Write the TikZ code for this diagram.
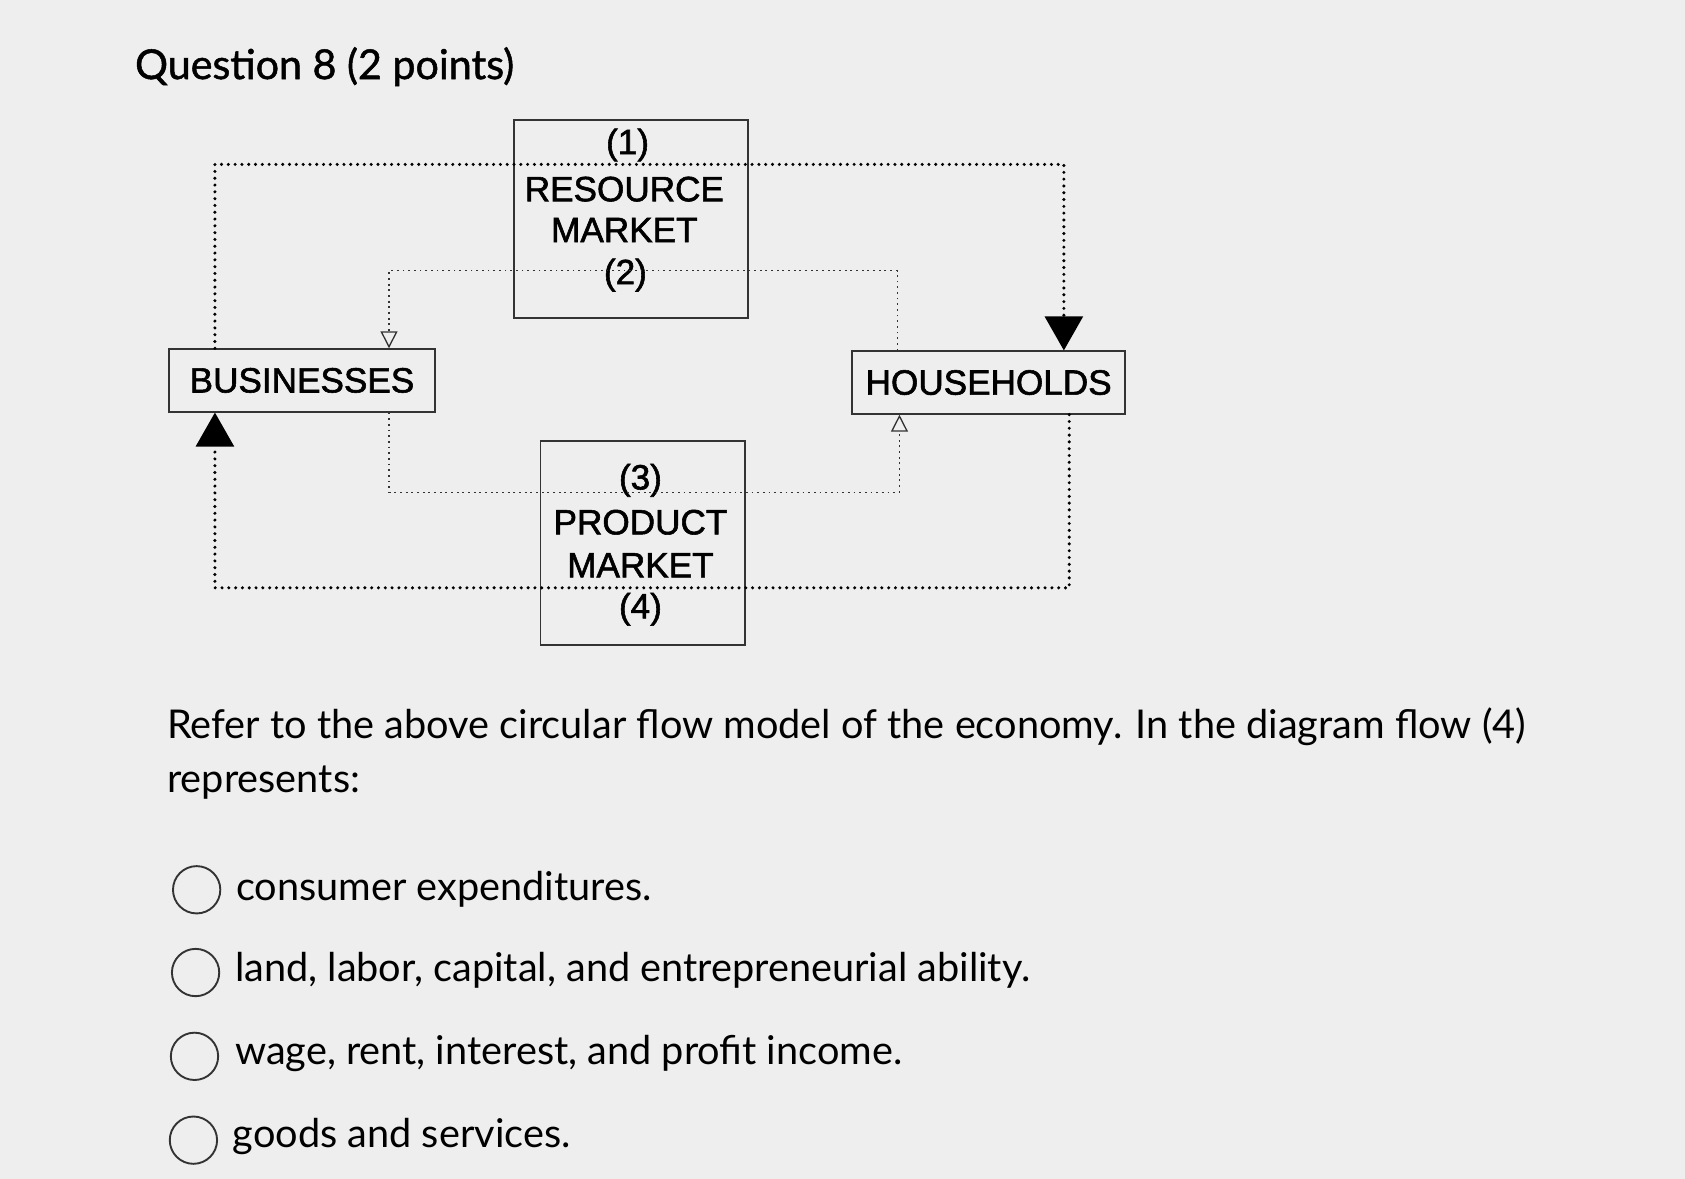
\documentclass[tikz,border=0pt]{standalone}
\usepackage{fontspec}
\setmainfont{Lato}
\newfontfamily\boxfont[FakeBold=1.6]{Liberation Sans}
\newfontfamily\titlefont[FakeBold=1.2]{Lato}
\usetikzlibrary{positioning,arrows.meta}

\tikzset{
  box/.style={draw=black!80, line width=0.5pt, inner sep=0pt},
  lbl/.style={font=\boxfont\fontsize{9.3}{11}\selectfont, inner sep=0pt},
  outer/.style={line width=0.9pt, line cap=round, dash pattern=on 0pt off 1.8pt},
  inner/.style={line width=0.35pt, dash pattern=on 0.5pt off 1pt, black!80},
  choice/.style={circle, draw=black!80, line width=0.5pt, minimum size=0.44cm, inner sep=0pt},
  txt/.style={font=\fontsize{10.5}{13}\selectfont, anchor=west, inner sep=0pt},
}

\begin{document}
\begin{tikzpicture}[x=0.01cm, y=-0.01cm]

  \fill[gray!13] (0,0) rectangle (1568,1097);
  \useasboundingbox (0,0) rectangle (1568,1097);

  \node[txt, font=\titlefont\fontsize{10.9}{13}\selectfont] (title) at (125,62) {Question 8 (2 points)};

  % market boxes
  \draw[box] (478,112) rectangle (696,296);
  \draw[box] (503,410) rectangle (693,600);
  \node[lbl] (r1) at (584,135) {(1)};
  \node[lbl] (r2) at (581,176) {RESOURCE};
  \node[lbl] (r3) at (581,214) {MARKET};
  \node[lbl] (r4) at (582,256) {(2)};
  \node[lbl] (p1) at (596,447) {(3)};
  \node[lbl] (p2) at (596,486) {PRODUCT};
  \node[lbl] (p3) at (596,526) {MARKET};
  \node[lbl] (p4) at (596,567) {(4)};

  % sectors
  \node[box, lbl, minimum width=2.48cm, minimum height=0.58cm] (bus) at (281,354) {BUSINESSES};
  \node[box, lbl, minimum width=2.54cm, minimum height=0.58cm] (hh) at (920,356) {HOUSEHOLDS};

  \coordinate (ol) at (200,153);
  \coordinate (or) at (990,153);
  \coordinate (il) at (362,252);
  \coordinate (ir) at (835,252);
  \coordinate (ll) at (200,547);
  \coordinate (lr) at (995,547);
  \coordinate (jl) at (362,458);
  \coordinate (jr) at (837,458);

  % flows
  \draw[outer, -{Triangle[width=10pt,length=9pt]}] (bus.north -| ol) -- (ol) -- (or) -- (hh.north -| or);
  \draw[outer, -{Triangle[width=10pt,length=9pt]}] (hh.south -| lr) -- (lr) -- (ll) -- (bus.south -| ll);
  \draw[inner, -{Triangle[open,width=4.5pt,length=4.5pt]}] (hh.north -| ir) -- (ir) -- (il) -- (bus.north -| il);
  \draw[inner, -{Triangle[open,width=4.5pt,length=4.5pt]}] (bus.south -| jl) -- (jl) -- (jr) -- (hh.south -| jr);

  % question
  \node[txt] (q1) at (155,676) {Refer to the above circular flow model of the economy. In the diagram flow (4)};
  \node[txt] (q2) at (155,728) {represents:};

  \node[choice] (c1) at (183,828) {};
  \node[choice] (c2) at (182,905) {};
  \node[choice] (c3) at (181,983) {};
  \node[choice] (c4) at (180,1061) {};
  \node[txt] (a1) at (219,828) {consumer expenditures.};
  \node[txt] (a2) at (218,903) {land, labor, capital, and entrepreneurial ability.};
  \node[txt] (a3) at (218,980) {wage, rent, interest, and profit income.};
  \node[txt] (a4) at (216,1058) {goods and services.};

\end{tikzpicture}
\end{document}
